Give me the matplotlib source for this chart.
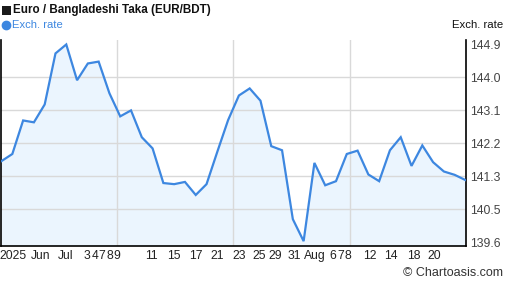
import matplotlib.pyplot as plt
import numpy as np
from matplotlib.lines import Line2D
from matplotlib.patches import Rectangle

# EUR/BDT exchange rate, one value per trading day
rates = [141.75, 141.94, 142.84, 142.79, 143.27, 144.64, 144.88, 143.92, 144.37, 144.42,
         143.57, 142.95, 143.11, 142.39, 142.09, 141.16, 141.13, 141.19, 140.84, 141.13,
         142.00, 142.85, 143.51, 143.70, 143.37, 142.15, 142.04, 140.19, 139.60, 141.70,
         141.10, 141.21, 141.94, 142.03, 141.39, 141.21, 142.04, 142.39, 141.62, 142.17,
         141.72, 141.47, 141.38, 141.24]

x_labels = ["2025", "Jun", "Jul", "3", "4", "7", "8", "9", "11", "15", "17", "21", "23",
            "25", "29", "31", "Aug", "6", "7", "8", "12", "14", "18", "20"]
# label positions in day-index units
x_label_pos = [1.1, 3.6, 5.9, 7.9, 8.7, 9.3, 10.0, 10.7, 13.9, 16.0, 18.0, 20.0, 22.0,
               23.9, 25.4, 27.1, 29.0, 30.7, 31.4, 32.1, 34.1, 36.1, 38.2, 40.1]

y_ticks = [139.57, 140.455, 141.34, 142.225, 143.11, 143.995, 144.88]

line_color = "#3d87e0"
fill_color = "#ebf5fe"

plt.rcParams["font.family"] = ["Liberation Sans", "DejaVu Sans"]

fig = plt.figure(figsize=(5.07, 2.88), dpi=100)
ax = fig.add_axes([1 / 507, 1 - 246 / 288, 465 / 507, 206 / 288])

x = np.arange(len(rates))
ax.fill_between(x, rates, 130, color=fill_color, lw=0, zorder=1)
ax.plot(x, rates, color=line_color, lw=1.6, zorder=3, solid_joinstyle="miter")

xmin, xmax = -0.05, 43.05
ax.set_xlim(xmin, xmax)
ax.set_ylim(139.47, 145.0)

# grid
for t in y_ticks[1:-1]:
    ax.axhline(t, color="#d9d9d9", lw=1, zorder=2)
for f in (0.25, 0.5, 0.75):
    ax.axvline(xmin + f * (xmax - xmin), color="#d9d9d9", lw=1, zorder=2)

ax.yaxis.tick_right()
ax.set_yticks(y_ticks)
ax.set_yticklabels([f"{t:.1f}" for t in y_ticks], fontsize=8.8, color="#444444")
ax.tick_params(axis="y", length=0, pad=3)

ax.set_xticks(x_label_pos)
ax.set_xticklabels(x_labels, fontsize=8.7, color="#222222")
ax.tick_params(axis="x", length=0, pad=3)

for side in ("left", "bottom", "right"):
    ax.spines[side].set_color("black")
    ax.spines[side].set_linewidth(1.2)
ax.spines["top"].set_visible(False)

# header
fig.add_artist(Rectangle((2 / 507, 1 - 14.5 / 288), 9 / 507, 9 / 288,
                         transform=fig.transFigure, color="#1a1a1a", lw=0))
fig.text(13 / 507, 1 - 10 / 288, "Euro / Bangladeshi Taka (EUR/BDT)", fontsize=8.4,
         fontweight="bold", va="center", ha="left", color="#111111")
fig.add_artist(Line2D([6 / 507], [1 - 25 / 288], marker="o", markersize=6, color=line_color,
                      transform=fig.transFigure, lw=0))
fig.text(12 / 507, 1 - 25 / 288, "Exch. rate", fontsize=8.1, va="center", ha="left", color=line_color)
fig.text(503 / 507, 1 - 25 / 288, "Exch. rate", fontsize=8.2, va="center", ha="right", color="#111111")
fig.text(503 / 507, 1 - 273 / 288, "\u00A9 Chartoasis.com", fontsize=9, va="center", ha="right",
         color="#333333")

fig.savefig("out.png", dpi=100)
